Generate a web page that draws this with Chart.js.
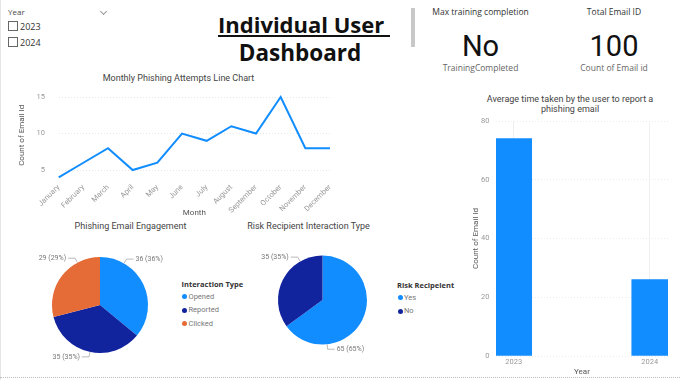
<!DOCTYPE html>
<html><head><meta charset="utf-8">
<script src="https://cdn.jsdelivr.net/npm/chart.js@4/dist/chart.umd.min.js"></script>
<style>
html,body{margin:0;padding:0;background:#fff;}
#root{position:relative;width:680px;height:380px;overflow:hidden;background:#fff;font-family:Roboto,sans-serif;}
.t{position:absolute;white-space:nowrap;line-height:1;}
canvas{position:absolute;}
</style></head><body><div id="root"></div>
<script>
// ---- data ----
const months = ["January","February","March","April","May","June","July","August","September","October","November","December"];
const monthlyAttempts = [4,6,8,5,6,10,9,11,10,15,8,8];
const engagementTypes = ["Opened","Reported","Clicked"];
const engagementCounts = [36,35,29];
const riskLabels = ["Yes","No"];
const riskCounts = [65,35];
const years = [2023,2024];
const yearCounts = [74,26];
const lineTicks = [5,10,15];
const barTicks = [0,20,40,60,80];

const BLUE='#118DFF', NAVY='#12239E', ORANGE='#E66C37';
const root=document.getElementById('root');
function T(txt,x,y,st,align){const d=document.createElement('div');d.className='t';d.textContent=txt;
 d.style.left=x+'px';d.style.top=y+'px';d.style.transform=align==='l'?'translate(0,-50%)':'translate(-50%,-50%)';
 Object.assign(d.style,st||{});root.appendChild(d);return d;}
function box(x,y,w,h,st){const d=document.createElement('div');d.style.position='absolute';d.style.left=x+'px';d.style.top=y+'px';d.style.width=w+'px';d.style.height=h+'px';Object.assign(d.style,st||{});root.appendChild(d);return d;}
function cv(x,y,w,h){const c=document.createElement('canvas');c.width=w;c.height=h;c.style.left=x+'px';c.style.top=y+'px';c.style.width=w+'px';c.style.height=h+'px';root.appendChild(c);return c;}

// frame
box(0,0,1,380,{background:'#e6e6e6'});
box(0,377,680,0,{borderTop:'1px dotted #bdbdbd'});
// slicer
T('Year',8,12,{fontFamily:'"Open Sans"',fontSize:'8px',color:'#444'},'l');
box(101,9,4,4,{borderRight:'1px solid #999',borderBottom:'1px solid #999',transform:'rotate(45deg)'});
box(8,21,8,8,{border:'1px solid #666'});
box(8,37,8,8,{border:'1px solid #666'});
T('2023',20,25.5,{fontFamily:'"Open Sans"',fontSize:'9px',color:'#333'},'l');
T('2024',20,41.5,{fontFamily:'"Open Sans"',fontSize:'9px',color:'#333'},'l');
// title
T('Individual User ',304,24,{fontFamily:'"Open Sans"',fontWeight:'700',fontSize:'22px',color:'#111',textDecoration:'underline',whiteSpace:'pre'});
T('Dashboard',300,53,{fontFamily:'"Open Sans"',fontWeight:'700',fontSize:'22.5px',color:'#111'});
box(411,8,4,39,{background:'#c8c8c8'});
// KPIs
T('Max training completion',480.5,12,{fontFamily:'"Open Sans"',fontSize:'8.5px',color:'#333'});
T('No',480.5,46,{fontFamily:'Roboto',fontSize:'29px',color:'#111'});
T('TrainingCompleted',480.5,68,{fontFamily:'"Open Sans"',fontSize:'8.5px',color:'#666'});
T('Total Email ID',614,12,{fontFamily:'"Open Sans"',fontSize:'8.5px',color:'#333'});
T('100',614,46,{fontFamily:'Roboto',fontSize:'29px',color:'#111'});
T('Count of Email id',614,68,{fontFamily:'"Open Sans"',fontSize:'8.5px',color:'#666'});
// chart titles
const titleSt={fontFamily:'Roboto',fontSize:'9px',color:'#444'};
T('Monthly Phishing Attempts Line Chart',178.5,77.5,titleSt);
T('Phishing Email Engagement',130.5,226,titleSt);
T('Risk Recipient Interaction Type',308.5,226,titleSt);
T('Average time taken by the user to report a',570,99,titleSt);
T('phishing email',570,108.5,titleSt);

Chart.defaults.font.family='Roboto';
Chart.defaults.animation=false;
const tickFont={size:7.5}, axTitleFont={size:8};
const gridSt={color:'#e8e8e8',lineWidth:1,drawTicks:false};

// line chart
new Chart(cv(0,70,345,150),{type:'line',
 data:{labels:months,datasets:[{data:monthlyAttempts,borderColor:BLUE,borderWidth:2,pointRadius:0,tension:0,fill:false}]},
 options:{responsive:false,maintainAspectRatio:false,layout:{padding:{left:0,right:15,top:19.7,bottom:0}},
  plugins:{legend:{display:false},tooltip:{enabled:false}},
  scales:{
   x:{grid:{display:false,drawTicks:false},border:{display:false},
      ticks:{autoSkip:false,minRotation:45,maxRotation:45,padding:2,color:'#999',font:tickFont},
      title:{display:true,text:'Month',color:'#555',font:axTitleFont,padding:{top:0,bottom:2.2}},
      afterFit:s=>{s.height=39;}},
   y:{min:3.5,max:16,grid:Object.assign({},gridSt,{borderDash:[1,2]}),border:{display:false,dash:[1,2]},
      afterBuildTicks:s=>{s.ticks=lineTicks.map(v=>({value:v}));},
      ticks:{padding:13.7,color:'#999',font:tickFont},
      title:{display:true,text:'Count of Email Id',color:'#555',font:axTitleFont,padding:{top:17.2,bottom:0}},
      afterFit:s=>{s.width=58.7;}}
  }}});

// pie label plugin
const pieLabels={id:'pieLabels',afterDatasetsDraw(chart,args,opts){
 const ctx=chart.ctx;const meta=chart.getDatasetMeta(0);const ds=chart.data.datasets[0].data;
 const total=ds.reduce((a,b)=>a+b,0);
 ctx.save();ctx.font='7px Roboto';ctx.fillStyle='#777';ctx.strokeStyle='#aaa';ctx.lineWidth=0.8;ctx.textBaseline='middle';
 meta.data.forEach((arc,i)=>{const a=(opts.angles[i]-90)*Math.PI/180;const r=arc.outerRadius;
  const x0=arc.x+r*Math.cos(a),y0=arc.y+r*Math.sin(a);const x1=arc.x+(r+5)*Math.cos(a),y1=arc.y+(r+5)*Math.sin(a);
  const right=Math.cos(a)>=0;const x2=x1+(right?7:-7);
  ctx.beginPath();ctx.moveTo(x0,y0);ctx.lineTo(x1,y1);ctx.lineTo(x2,y1);ctx.stroke();
  ctx.textAlign=right?'left':'right';
  ctx.fillText(ds[i]+' ('+Math.round(ds[i]/total*100)+'%)',x2+(right?2:-2),y1);});
 ctx.restore();}};

new Chart(cv(30,240,150,130),{type:'pie',
 data:{labels:engagementTypes,datasets:[{data:engagementCounts,backgroundColor:[BLUE,NAVY,ORANGE],borderWidth:0}]},
 options:{responsive:false,layout:{padding:{left:22,right:32,top:17,bottom:17}},
  plugins:{legend:{display:false},tooltip:{enabled:false},pieLabels:{angles:[30,192,332]}}},
 plugins:[pieLabels]});
new Chart(cv(250,240,140,125),{type:'pie',
 data:{labels:riskLabels,datasets:[{data:riskCounts,backgroundColor:[BLUE,NAVY],borderWidth:0}]},
 options:{responsive:false,layout:{padding:{left:28,right:23,top:15.5,bottom:20.5}},
  plugins:{legend:{display:false},tooltip:{enabled:false},pieLabels:{angles:[174,330]}}},
 plugins:[pieLabels]});

// legends
function legend(title,labels,colors,x,y,step){
 T(title,x,y,{fontFamily:'"Open Sans"',fontWeight:'700',fontSize:'7.5px',color:'#333'},'l');
 labels.forEach((l,i)=>{const yy=y+11.5+i*step;
  box(x+0.5,yy-2.5,5,5,{background:colors[i],borderRadius:'50%'});
  T(l,x+7,yy,{fontFamily:'Roboto',fontSize:'7.5px',color:'#777'},'l');});
}
legend('Interaction Type',engagementTypes,[BLUE,NAVY,ORANGE],181.5,285,13.5);
legend('Risk Recipeient',riskLabels,[BLUE,NAVY],397,286,13.5);

// bar chart
new Chart(cv(460,110,215,270),{type:'bar',
 data:{datasets:[{data:years.map((y,i)=>({x:y,y:yearCounts[i]})),backgroundColor:BLUE,barThickness:36}]},
 options:{responsive:false,layout:{padding:{left:0,right:7,top:9.3,bottom:0}},
  plugins:{legend:{display:false},tooltip:{enabled:false}},
  scales:{
   x:{type:'linear',offset:false,min:years[0]-0.13,max:years[years.length-1]+0.134,
      grid:{color:'#f0f0f0',drawTicks:false,offset:false},border:{display:false},
      afterBuildTicks:s=>{s.ticks=years.map(v=>({value:v}));},
      ticks:{padding:2,color:'#999',font:tickFont,callback:v=>String(v)},
      title:{display:true,text:'Year',color:'#555',font:axTitleFont,padding:{top:0,bottom:3.2}},
      afterFit:s=>{s.height=24;}},
   y:{min:0,max:80,grid:Object.assign({},gridSt,{color:'#ececec'}),border:{display:false,dash:[1,2]},
      afterBuildTicks:s=>{s.ticks=barTicks.map(v=>({value:v}));},
      ticks:{padding:6.5,color:'#999',font:tickFont},
      title:{display:true,text:'Count of Email Id',color:'#555',font:axTitleFont,padding:{top:11.2,bottom:0}},
      afterFit:s=>{s.width=36;}}
  }}});
</script></body></html>
